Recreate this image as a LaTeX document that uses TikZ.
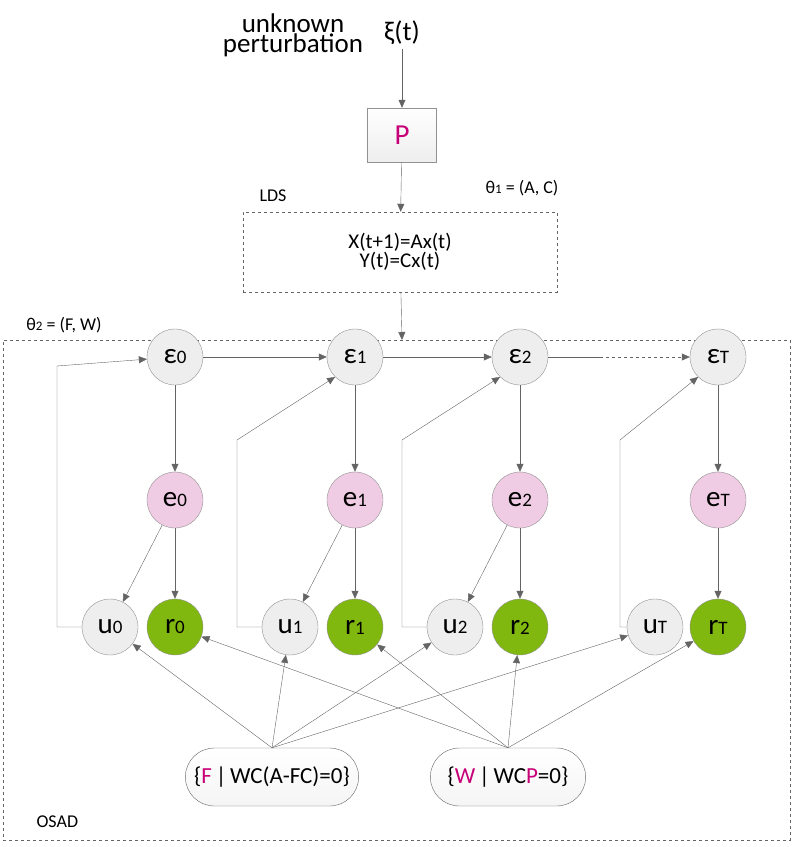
\documentclass[tikz,border=0pt]{standalone}
\usepackage{fontspec}
\setmainfont{Carlito}
\usetikzlibrary{arrows.meta,shapes.misc}
\definecolor{pk}{RGB}{240,204,228}
\definecolor{gr}{RGB}{128,184,16}
\definecolor{lg}{RGB}{238,238,238}
\definecolor{mg}{RGB}{200,0,120}
\definecolor{ln}{RGB}{100,100,100}
\newcommand{\fbig}{\fontsize{29}{29}\selectfont}
\newcommand{\fsub}{\fontsize{19}{19}\selectfont}
\newcommand{\flab}{\fontsize{18}{18}\selectfont}
\newcommand{\ftiny}{\fontsize{13}{13}\selectfont}
\newcommand{\flds}{\fontsize{21}{26}\selectfont}
\newcommand{\fset}{\fontsize{23}{23}\selectfont}
\newcommand{\ftop}{\fontsize{27}{29}\selectfont}
\begin{document}
\begin{tikzpicture}[x=1pt,y=-1pt,
  c/.style={circle,draw=ln!70,minimum size=56pt,inner sep=0pt},
  g/.style={c,fill=lg},
  p/.style={c,fill=pk},
  v/.style={c,fill=gr},
  ar/.style={draw=ln,-{Triangle[length=8pt,width=7pt]}},
  tl/.style={draw=ln,thin,-{Triangle[length=8pt,width=7pt]}},
  box/.style={draw=ln,dashed}]
\useasboundingbox (0,0) rectangle (793,847);
\node[box,minimum width=787pt,minimum height=500pt] (osad) at (396.5,590) {};
\node[anchor=west] (osadl) at (33,822) {\flab OSAD};
\node (th2) at (64,325) {\flab θ{\ftiny 2} = (F, W)};
\node (xi) at (402,33) {\ftop ξ(t)};
\node[align=center] (unk) at (293,35) {\ftop unknown\\\ftop perturbation};
\node[draw=ln!70,top color=white,bottom color=lg,minimum width=69pt,minimum height=54pt,text=mg] (P) at (402,135) {\fbig P};
\node[box,minimum width=314pt,minimum height=80pt,align=center] (lds) at (400,252) {\flds X(t+1)=Ax(t)\\\flds Y(t)=Cx(t)};
\node (ldsl) at (273,196) {\flab LDS};
\node (th1) at (522,188) {\flab θ{\ftiny 1} = (A, C)};
\draw[ar] (xi) -- (P);
\draw[ar] (P) -- (lds);
\draw[ar] (lds) -- (402,340);
\foreach \n/\x/\ux/\s in {0/175/110/0,1/355/290/1,2/520/455/2,T/718/655/T}{
  \node[g] (E\n) at (\x,357) {\fbig ε{\fsub\s}};
  \node[p] (e\n) at (\x,500) {\fbig e{\fsub\s}};
  \node[v] (r\n) at (\x,627) {\fbig r{\fsub\s}};
  \node[g] (u\n) at (\ux,627) {\fbig u{\fsub\s}};
  \draw[ar] (E\n) -- (e\n);
  \draw[ar] (e\n) -- (r\n);
}
\foreach \n in {0,1,2} \draw[ar] (e\n) -- (u\n);
\draw[ar] (E0) -- (E1);
\draw[ar] (E1) -- (E2);
\coordinate (m) at (600,357);
\draw[draw=ln] (E2) -- (m);
\draw[ar,dashed] (m) -- (ET);
\coordinate (f0a) at (57,627); \coordinate (f0b) at (57,366);
\draw[ar] (u0) -- (f0a) -- (f0b) -- (E0);
\foreach \n/\x in {1/237,2/402,T/620}{
  \coordinate (fa\n) at (\x,627); \coordinate (fb\n) at (\x,440);
  \draw[ar] (u\n) -- (fa\n) -- (fb\n) -- (E\n.south west);
}
\node[draw=ln,rounded rectangle,top color=white,bottom color=lg!60,minimum width=180pt,minimum height=58pt] (Fb) at (272,777) {\fset \{\textcolor{mg}{F}\,|\,WC(A-FC)=0\}};
\node[draw=ln,rounded rectangle,top color=white,bottom color=lg!60,minimum width=162pt,minimum height=58pt] (Wb) at (508,777) {\fset \{\textcolor{mg}{W}\,|\,WC\textcolor{mg}{P}=0\}};
\foreach \t in {u0,u1,u2,uT} \draw[tl] (Fb.north) -- (\t);
\foreach \t in {r0,r1,r2,rT} \draw[tl] (Wb.north) -- (\t);
\end{tikzpicture}
\end{document}
